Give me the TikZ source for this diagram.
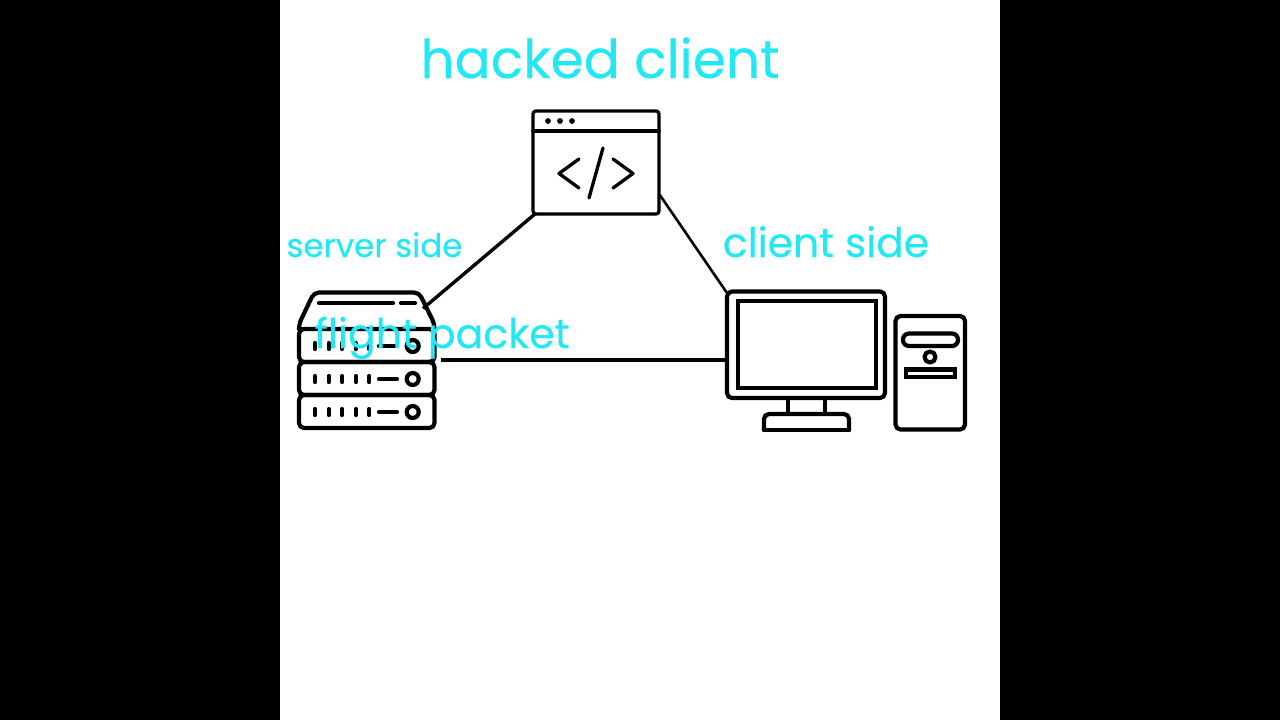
\documentclass[tikz,border=0pt]{standalone}
\usepackage{fontspec}
\setmainfont{Poppins}
\newfontfamily\lblfont{Poppins}[FakeBold=0.25]
\definecolor{lbl}{HTML}{22E8F5}
\tikzset{
  x=1pt,y=-1pt,
  hub/.style={inner sep=0pt,outer sep=0pt,rectangle},
  icon/.style={draw=black,line width=4.2pt,line cap=round,line join=round},
  thin icon/.style={draw=black,line width=3.3pt,line cap=round,line join=round},
  link/.style={draw=black,line cap=butt},
  lab/.style={text=lbl,inner sep=0pt,anchor=base,font=\lblfont},
}
\begin{document}
\begin{tikzpicture}
\useasboundingbox (0,0) rectangle (1280,720);
\fill[black] (0,0) rectangle (1280,720);
\fill[white] (280,0) rectangle (1000,720);
% anchor nodes for the three icons
\node[hub,minimum width=127pt,minimum height=104pt] (win) at (596,162.5) {};
\node[hub,minimum width=138pt,minimum height=138pt] (srv) at (367,360.5) {};
\node[hub,minimum width=159pt,minimum height=108pt] (mon) at (806.5,345) {};
% connectors
\draw[link,line width=3.4pt] ([shift={(3,-1)}]win.south west) -- ([shift={(-13,17)}]srv.north east);
\draw[link,line width=2.6pt] ([shift={(0,-20)}]win.south east) -- ([shift={(0,2)}]mon.north west);
\draw[link,line width=3.8pt] ([shift={(5,-0.5)}]srv.east) -- ([shift={(0,15)}]mon.west);
% window
\draw[thin icon,rounded corners=3pt] (533,111) rectangle (659,214);
\draw[thin icon] (533,131) -- (659,131);
\foreach \px in {548,560,572} \fill (\px,121) circle (2.9pt);
\draw[thin icon] (579,159) -- (559,173.5) -- (579,188);
\draw[thin icon] (613,159) -- (633,173.5) -- (613,188);
\draw[thin icon] (603,148) -- (589,198);
% server
\draw[icon,rounded corners=5pt] (299,329) -- (299,324) -- (314,292.5) -- (419,292.5) -- (434.5,324) -- (434.5,329);
\draw[icon] (299,329) -- (434.5,329);
\draw[icon] (319,303) -- (393,303);
\draw[icon] (401,303) -- (415,303);
\draw[icon,rounded corners=5pt] (299,329) rectangle (434.5,362);
\draw[icon,rounded corners=5pt] (299,362) rectangle (434.5,395);
\draw[icon,rounded corners=5pt] (299,395) rectangle (434.5,428);
\foreach \py in {346,379,412}{
  \foreach \px in {315,328.7,342.3,355.7,369.3}
    \draw[icon] (\px,\py-3) -- (\px,\py+3);
  \draw[icon] (379,\py) -- (397,\py);
  \draw[icon] (412.7,\py) circle (6pt);
}
% monitor
\draw[icon,rounded corners=5pt] (727,291.5) rectangle (885,398);
\draw[icon,line join=miter] (738,301) rectangle (876,388);
\draw[icon] (788,398) -- (788,413);
\draw[icon] (825,398) -- (825,413);
\draw[icon] (764,430) -- (849,430);
\draw[icon,rounded corners=5pt] (764,430) -- (764,414) -- (849,414) -- (849,430);
% tower
\draw[icon,rounded corners=5pt] (895.5,316) rectangle (965,429.5);
\draw[icon,rounded corners=6pt] (903,333.5) rectangle (958,346);
\draw[icon] (930,357) circle (5.5pt);
\draw[icon,line join=miter] (906,369.5) rectangle (955,377);
% labels
\node[lab] (t1) at (600,78) {\fontsize{53.4}{53}\selectfont hacked client};
\node[lab] (t2) at (374.5,257) {\fontsize{32.6}{33}\selectfont server side};
\node[lab] (t3) at (826,257) {\fontsize{40.8}{41}\selectfont client side};
\node[lab] (t4) at (442,348) {\fontsize{41}{41}\selectfont flight packet};
\end{tikzpicture}
\end{document}
